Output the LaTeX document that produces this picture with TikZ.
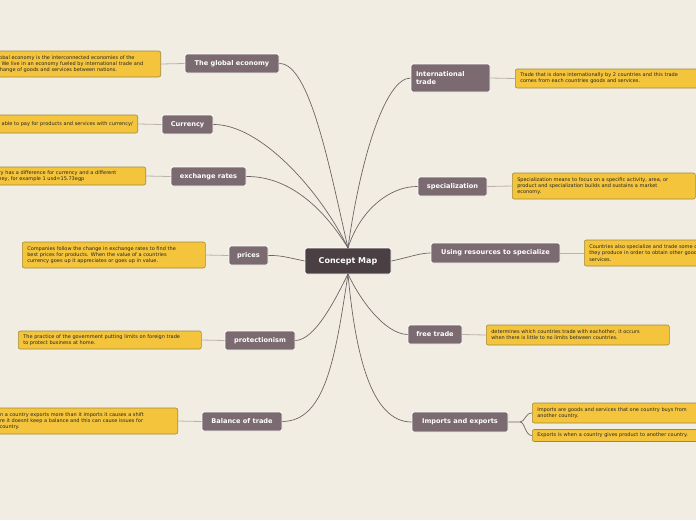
\documentclass[tikz,border=0pt]{standalone}
\usepackage{fontspec}
\setmainfont{DejaVu Sans}
\definecolor{bg}{HTML}{F2EDE2}
\definecolor{topic}{HTML}{7B6B70}
\definecolor{central}{HTML}{4A4044}
\definecolor{notey}{HTML}{F4C43C}
\definecolor{noteb}{HTML}{A08A3A}
\definecolor{branch}{HTML}{6E6466}
\definecolor{stub}{HTML}{B8B2AA}
\tikzset{
 topicbox/.style={draw=white, line width=0.8pt, fill=topic, rounded corners=2pt, text=white, font=\fontsize{6.6}{8}\selectfont\bfseries, inner sep=0pt, align=center},
 centralbox/.style={draw=white, line width=0.8pt, fill=central, rounded corners=2pt, text=white, font=\fontsize{8}{9}\selectfont\bfseries, minimum width=86pt, minimum height=26pt, inner sep=0pt},
 notebox/.style={draw=noteb, line width=0.6pt, fill=notey, rounded corners=2pt, text=black!85, font=\fontsize{5}{6.2}\selectfont, inner xsep=5pt, inner ysep=0pt, align=left},
 br/.style={draw=branch, line width=0.7pt},
 st/.style={draw=stub, line width=0.8pt}
}
\begin{document}
\begin{tikzpicture}[x=1pt,y=-1pt]
\fill[bg] (0,0) rectangle (696,520);
\useasboundingbox (0,0) rectangle (696,520);
\clip (0,0) rectangle (696,520);
% central
\node[centralbox] (c) at (348,261) {Concept Map};
\coordinate (cn) at (348,248);
\coordinate (cs) at (348,274);
% left topics
\node[topicbox, minimum width=94pt, minimum height=19pt] (ge) at (232,63.5) {The global economy};
\node[topicbox, minimum width=51pt, minimum height=19pt] (cu) at (187.5,124.5) {Currency};
\node[topicbox, minimum width=75pt, minimum height=19pt] (er) at (208.5,176.5) {exchange rates};
\node[topicbox, minimum width=39pt, minimum height=19pt] (pr) at (248.5,255.5) {prices};
\node[topicbox, minimum width=70pt, minimum height=19pt] (pt) at (260,340.5) {protectionism};
\node[topicbox, minimum width=80pt, minimum height=19pt] (bt) at (242,421.5) {Balance of trade};
% right topics
\node[topicbox, minimum width=79pt, minimum height=28pt, align=left, text width=69pt] (it) at (450.5,78) {International\\trade};
\node[topicbox, minimum width=69pt, minimum height=19pt] (sp) at (452.5,186.5) {specialization};
\node[topicbox, minimum width=129pt, minimum height=20pt] (ur) at (495.5,253) {Using resources to specialize};
\node[topicbox, minimum width=54pt, minimum height=19pt] (ft) at (435,334.5) {free trade};
\node[topicbox, minimum width=96pt, minimum height=20pt] (ie) at (460,422) {Imports and exports};
% notes left
\node[notebox, anchor=east, minimum height=26pt, text width=172pt] (nge) at (161,64) {The global economy is the interconnected economies of the\\world. We live in an economy fueled by international trade and\\its exchange of goods and services between nations.};
\node[notebox, anchor=east, minimum height=18pt, text width=172pt] (ncu) at (138,124) {\hfill We are able to pay for products and services with currency/};
\node[notebox, anchor=east, minimum height=18pt, text width=172pt] (ner) at (146,176) {Every country has a difference for currency and a different\\value of money, for example 1 usd=15.73egp};
\node[notebox, anchor=west, minimum width=183pt, minimum height=26pt, text width=173pt] (npr) at (22,255) {Companies follow the change in exchange rates to find the\\best prices for products. When the value of a countries\\currency goes up it appreciates or goes up in value.};
\node[notebox, anchor=west, minimum width=183pt, minimum height=18pt, text width=173pt] (npt) at (18,340) {The practice of the government putting limits on foreign trade\\to protect business at home.};
\node[notebox, anchor=east, minimum height=26pt, text width=178pt] (nbt) at (178,421) {\hspace*{-5pt}when a country exports more than it imports it causes a shift\\ \hspace*{-5pt}where it doesnt keep a balance and this can cause issues for\\ \hspace*{-5pt}the country.};
% notes right
\node[notebox, anchor=west, minimum height=19pt, text width=185pt] (nit) at (515,78.5) {Trade that is done internationally by 2 countries and this trade\\comes from each countries goods and services.};
\node[notebox, anchor=west, minimum width=183pt, minimum height=26pt, text width=173pt] (nsp) at (512,186) {Specialization means to focus on a specific activity, area, or\\product and specialization builds and sustains a market\\economy.};
\node[notebox, anchor=west, minimum height=26pt, text width=185pt] (nur) at (584,253) {Countries also specialize and trade some of what\\they produce in order to obtain other goods and\\services.};
\node[notebox, anchor=west, minimum width=183pt, minimum height=20pt, text width=173pt] (nft) at (486,335) {determines which countries trade with eachother, it occurs\\when there is little to no limits between countries.};
\node[notebox, anchor=west, minimum height=20pt, text width=185pt] (nim) at (532,413) {Imports are goods and services that one country buys from\\another country.};
\node[notebox, anchor=west, minimum height=12pt, text width=185pt] (nex) at (532,435.5) {Exports is when a country gives product to another country.};
% branches
\draw[br] (cn) .. controls (330,170) and (310,63) .. (ge.east);
\draw[br] (cn) .. controls (320,190) and (260,124) .. (cu.east);
\draw[br] (cn) .. controls (325,210) and (290,176) .. (er.east);
\draw[br] (c.west) .. controls (290,258) and (280,255) .. (pr.east);
\draw[br] (cs) .. controls (335,300) and (315,340) .. (pt.east);
\draw[br] (cs) .. controls (335,360) and (325,421) .. (bt.east);
\draw[br] (cn) .. controls (360,160) and (385,78) .. (it.west);
\draw[br] (cn) .. controls (360,210) and (390,186) .. (sp.west);
\draw[br] (c.east) .. controls (410,257) and (420,253) .. (ur.west);
\draw[br] (cs) .. controls (360,300) and (385,334) .. (ft.west);
\draw[br] (cs) .. controls (355,350) and (370,422) .. (ie.west);
% stubs
\draw[st] (ge.west) -- (nge.east);
\draw[st] (cu.west) -- (ncu.east);
\draw[st] (er.west) -- (ner.east);
\draw[st] (pr.west) -- (npr.east);
\draw[st] (pt.west) -- (npt.east);
\draw[st] (bt.west) -- (nbt.east);
\draw[st] (it.east) -- (nit.west);
\draw[st] (sp.east) -- (nsp.west);
\draw[st] (ur.east) -- (nur.west);
\draw[st] (ft.east) -- (nft.west);
\draw[br] (ie.east) -- (520,422) .. controls (525,422) and (525,413) .. (nim.west);
\draw[br] (520,422) .. controls (525,422) and (525,435.5) .. (nex.west);
\end{tikzpicture}
\end{document}
